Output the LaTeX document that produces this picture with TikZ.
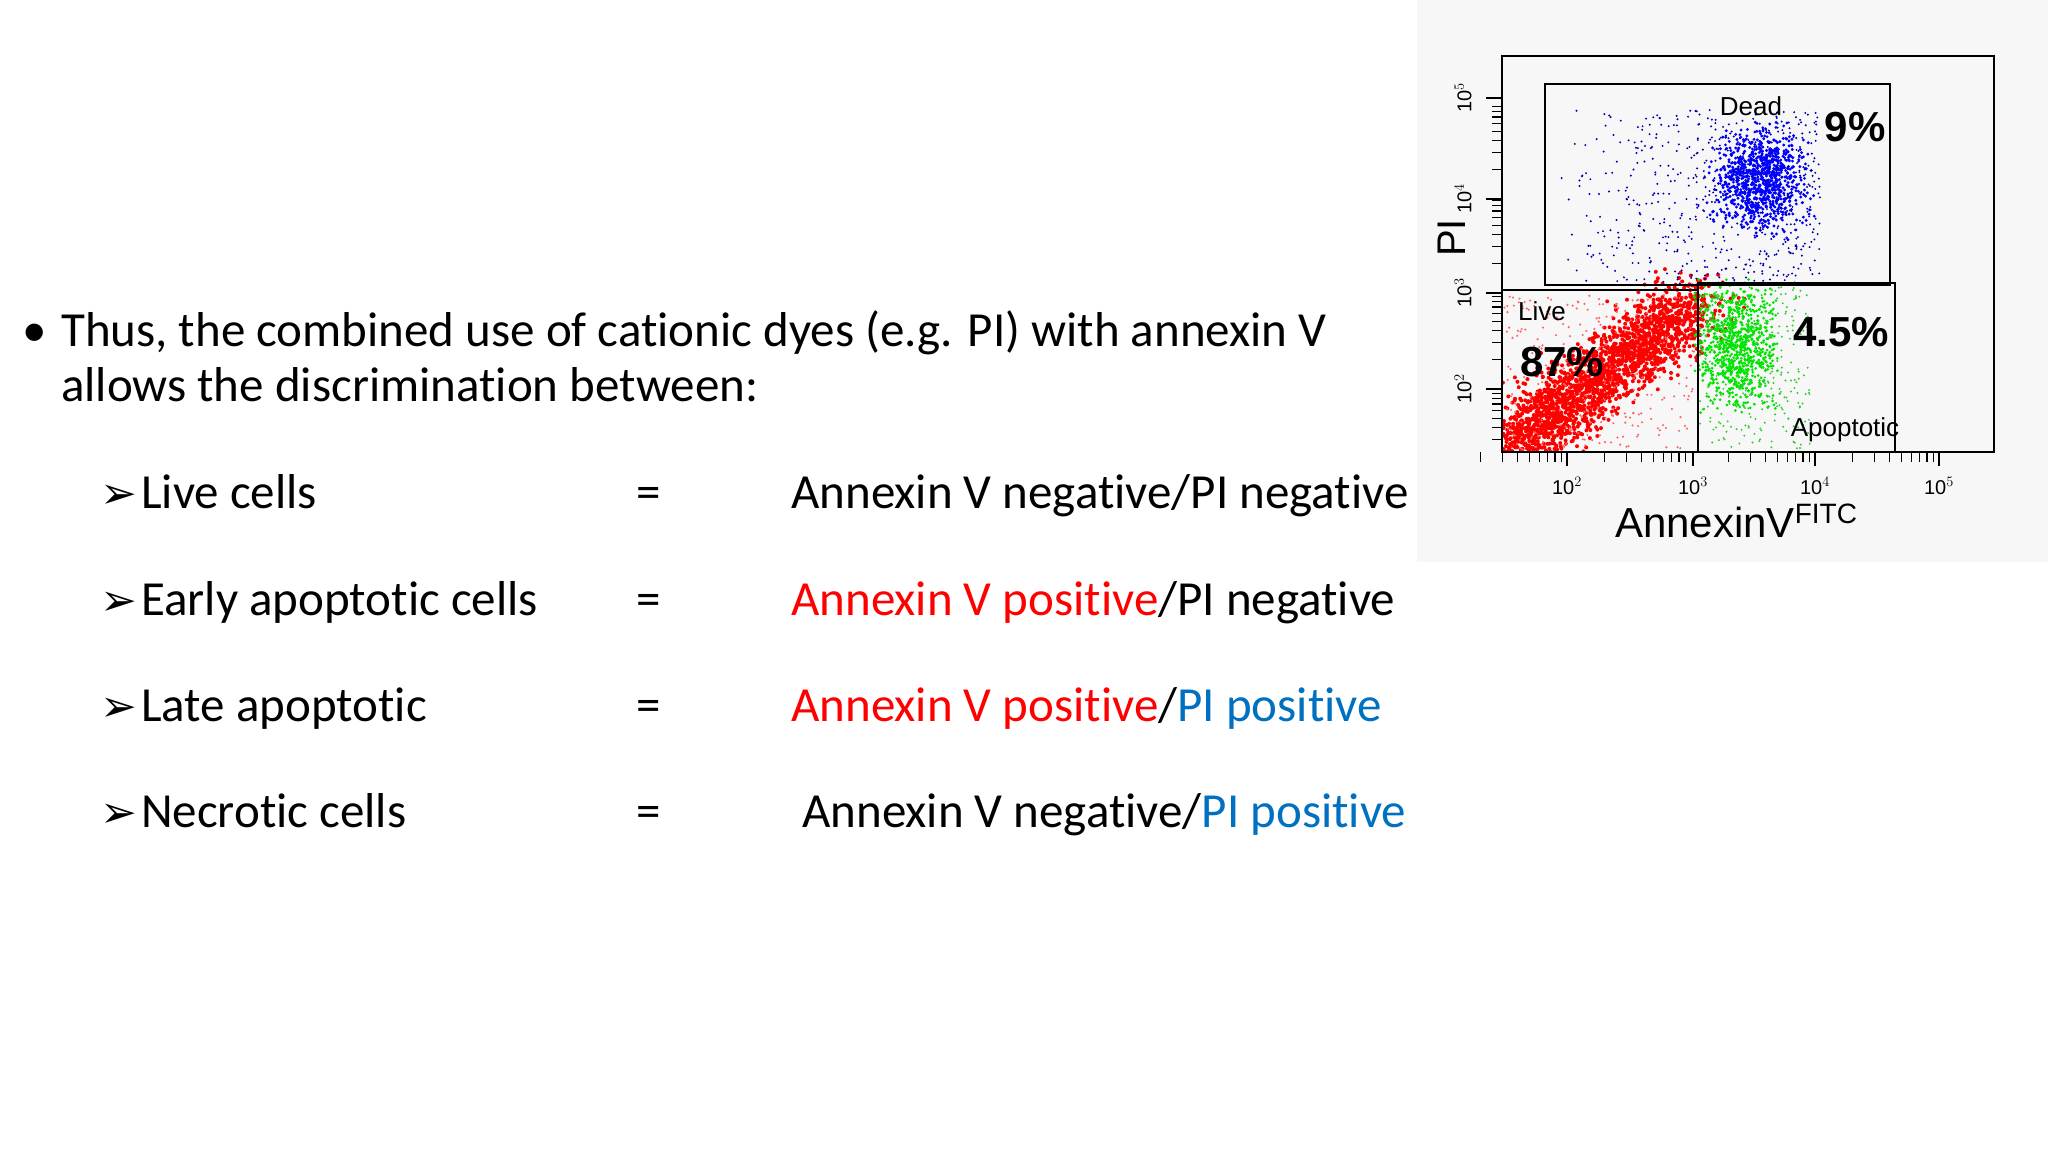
\documentclass[tikz,border=0pt]{standalone}
\usepackage{fontspec}
\setmainfont{Carlito}[Ligatures=NoCommon]
\newfontfamily\plotfont{Liberation Sans}
\definecolor{myred}{RGB}{255,0,0}
\definecolor{myblue}{RGB}{0,112,192}
\begin{document}
\begin{tikzpicture}[x=1pt,y=-1pt,
  body/.style={font=\fontsize{49}{58}\selectfont,anchor=base west,inner sep=0},
  plab/.style={font=\plotfont,inner sep=0}]
\useasboundingbox (0,0) rectangle (2048,1152);
\fill[white] (0,0) rectangle (2048,1152);
\fill[gray!6] (1417,0) rectangle (2048,562);
% text
\node[body] (b0) at (22,346) {\textbullet};
\node[body] (l1) at (61,346) {Thus, the combined use of cationic dyes (e.g. PI) with annexin V};
\node[body] (l2) at (61,401) {allows the discrimination between:};
\foreach \y/\lab/\rhs [count=\i] in {508/Live cells/{Annexin V negative/PI negative},
  615/Early apoptotic cells/{\textcolor{myred}{Annexin V positive}/PI negative},
  721/Late apoptotic/{\textcolor{myred}{Annexin V positive}/\textcolor{myblue}{PI positive}},
  827/Necrotic cells/{\hspace{11pt}Annexin V negative/\textcolor{myblue}{PI positive}}}{
  \node[body] (a\i) at (100,\y) {\fontspec{DejaVu Sans}\fontsize{44}{48}\selectfont ➢};
  \node[body] (c\i) at (141,\y) {\lab};
  \node[body] (e\i) at (636,\y) {=};
  \node[body] (r\i) at (791,\y) {\rhs};
}
% scatter
\pgfmathsetseed{7}
\begin{scope}
\clip (1502,56) rectangle (1994,452);
\foreach \n in {1,...,2200}{
  \pgfmathsetmacro\t{rnd}
  \pgfmathsetmacro\px{1505+190*\t+40*(rnd+rnd+rnd-1.5)}
  \pgfmathsetmacro\py{452-150*\t+32*(rnd+rnd+rnd-1.5)}
  \fill[red] (\px,\py) circle (2);
}
\foreach \n in {1,...,300}{
  \fill[red!60!white] ({1504+190*rnd},{295+155*rnd}) circle (1.2);
}
\foreach \n in {1,...,1000}{
  \pgfmathsetmacro\px{1760+40*(rnd+rnd+rnd-1.5)}
  \pgfmathsetmacro\py{180+45*(rnd+rnd+rnd-1.5)}
  \fill[blue] (\px,\py) circle (1.6);
}
\foreach \n in {1,...,600}{
  \pgfmathsetmacro\px{1560+260*rnd^0.6}
  \pgfmathsetmacro\py{110+175*rnd}
  \fill[blue!70!black] (\px,\py) circle (1.1);
}
\foreach \n in {1,...,900}{
  \pgfmathsetmacro\px{1735+45*(rnd+rnd-1)}
  \pgfmathsetmacro\py{345+70*(rnd+rnd-1)}
  \fill[green!90!black] (\px,\py) circle (1.5);
}
\foreach \n in {1,...,300}{
  \fill[green!60!gray] ({1700+110*rnd},{285+165*rnd}) circle (1.1);
}
\end{scope}
% gates
\draw[line width=1.6pt] (1545,84) rectangle (1890,285);
\draw[line width=1.6pt] (1502,290) rectangle (1698,452);
\draw[line width=2.4pt] (1698,283) rectangle (1895,452);
\draw[line width=1.8pt] (1502,56) rectangle (1994,452);
% ticks
\foreach \d/\lab in {1567/2,1693/3,1815/4,1939/5}{
  \draw[line width=1.4pt] (\d,452) -- (\d,466);
  \node[plab,font=\plotfont\fontsize{20}{20}\selectfont] at (\d,486) {10$^{\lab}$};
}
\foreach \d in {1443,1567,1691,1815}{
  \foreach \k in {2,...,9}{
    \pgfmathsetmacro\xx{\d+124*log10(\k)}
    \draw[line width=1.2pt] (\xx,452) -- (\xx,462);
  }
}
\foreach \d/\lab in {98/5,199/4,293/3,389/2}{
  \draw[line width=1.4pt] (1502,\d) -- (1486,\d);
  \node[plab,rotate=90,font=\plotfont\fontsize{20}{20}\selectfont] at (1463,\d) {10$^{\lab}$};
}
\foreach \d in {199,293,389,486}{
  \foreach \k in {2,...,9}{
    \pgfmathsetmacro\yy{\d-97*log10(\k)}
    \ifdim\yy pt>60pt \ifdim\yy pt<450pt \draw[line width=1.2pt] (1502,\yy) -- (1492,\yy); \fi\fi
  }
}
% labels
\node[plab,font=\plotfont\fontsize{26}{26}\selectfont] (dl) at (1751,106) {Dead};
\node[plab,font=\plotfont\bfseries\fontsize{42}{42}\selectfont] (p9) at (1855,127) {9\%};
\node[plab,font=\plotfont\fontsize{26}{26}\selectfont,anchor=west] (lv) at (1518,311) {Live};
\node[plab,font=\plotfont\bfseries\fontsize{42}{42}\selectfont,anchor=west] (p87) at (1520,362) {87\%};
\node[plab,font=\plotfont\bfseries\fontsize{42}{42}\selectfont] (p45) at (1841,332) {4.5\%};
\node[plab,font=\plotfont\fontsize{26}{26}\selectfont] (ap) at (1845,430) {Apoptotic};
\node[plab,rotate=90,font=\plotfont\fontsize{40}{40}\selectfont] (pi) at (1452,238) {PI};
\node[plab,font=\plotfont\fontsize{42}{42}\selectfont] (ax) at (1736,521) {AnnexinV\raisebox{14pt}{\fontsize{28}{28}\selectfont FITC}};
\end{tikzpicture}
\end{document}
